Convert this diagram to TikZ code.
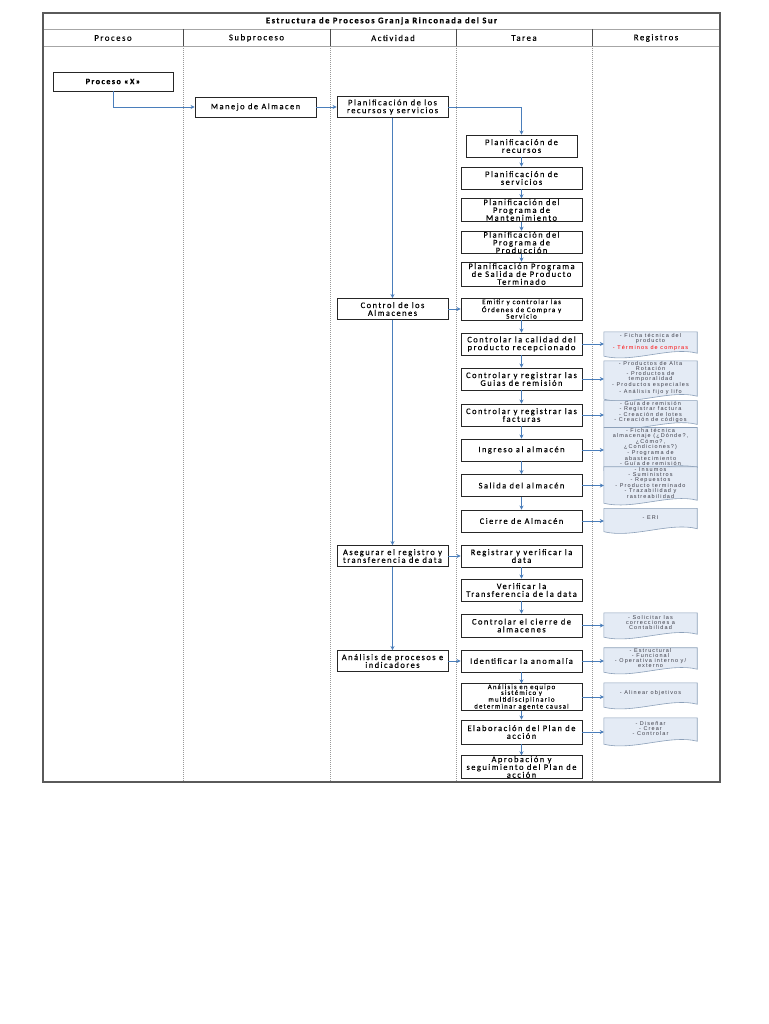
\documentclass[tikz,border=0pt]{standalone}
\usepackage{fontspec}
\setmainfont{Carlito}[LetterSpace=17, FakeBold=0.12]
\newfontfamily\docfamily{Liberation Sans}[LetterSpace=20]
\usetikzlibrary{arrows.meta,calc,backgrounds}
\definecolor{linkblue}{RGB}{74,126,187}
\definecolor{docfill}{RGB}{228,235,245}
\definecolor{docline}{RGB}{140,160,185}
\definecolor{docText}{RGB}{60,60,70}
\definecolor{frameGray}{RGB}{90,90,90}
\newcommand\boxfont{\fontsize{8.5}{7.8}\selectfont}
\newcommand\smallboxfont{\fontsize{7}{6.6}\selectfont}
\newcommand\docfont{\docfamily\fontsize{5.5}{5}\selectfont\color{docText}}
\tikzset{
  box/.style={draw=black!85, line width=0.9pt, fill=white, align=center, inner sep=0.5pt, font=\boxfont},
  taskbox/.style={box, minimum width=121pt, minimum height=22pt},
  actbox/.style={box, minimum width=111pt, minimum height=21pt},
  docnode/.style={minimum width=93pt, inner sep=0.5pt, align=center, font=\docfont},
  docshape/.style={draw=docline, line width=0.6pt, fill=docfill},
  conn/.style={draw=linkblue, line width=0.9pt, -{Stealth[length=4pt,width=4pt]}},
  divider/.style={draw=gray!80, line width=1pt, dash pattern=on 1pt off 1pt},
  hdr/.style={font=\fontsize{8.8}{8}\selectfont, inner sep=0pt}
}
\begin{document}
\begin{tikzpicture}[x=1pt,y=-1pt]
\useasboundingbox (0,0) rectangle (768,1024);
% header texts
\node[hdr, font=\bfseries\fontsize{8.6}{8}\selectfont] (title) at (381.5,21) {Estructura de Procesos Granja Rinconada del Sur};
\node[hdr] (hProceso) at (113,38) {Proceso};
\node[hdr] (hSub) at (256.5,38) {Subproceso};
\node[hdr] (hAct) at (393,38) {Actividad};
\node[hdr] (hTarea) at (524,38) {Tarea};
\node[hdr] (hReg) at (656,38) {Registros};
% grid
\draw[draw=gray!70, line width=0.9pt] (43,29) -- (720,29) (43,46) -- (720,46);
\draw[draw=black!70, line width=0.9pt] (183,29) -- (183,46) (330,29) -- (330,46) (456,29) -- (456,46) (592,29) -- (592,46);
\draw[divider] (183,46) -- (183,782) (330,46) -- (330,782) (456,46) -- (456,782) (592,46) -- (592,782);
\draw[draw=frameGray, line width=1.3pt] (43,13) rectangle (720,782);

% proceso / subproceso
\node[box, font=\bfseries\fontsize{8.2}{8}\selectfont, minimum width=120pt, minimum height=19pt] (procX) at (113,81.5) {Proceso «X»};
\node[box, minimum width=121pt, minimum height=20pt] (manejo) at (255.5,107) {Manejo de Almacen};

% actividades
\node[actbox] (a1) at (392.5,107) {Planificación de los\\recursos y servicios};
\node[actbox] (a2) at (392.5,309) {Control de los\\Almacenes};
\node[actbox] (a3) at (392.5,556) {Asegurar el registro y\\transferencia de data};
\node[actbox] (a4) at (392.5,661) {Análisis de procesos e\\indicadores};

% tareas
\node[taskbox, minimum width=111pt] (t1) at (521.5,146) {Planificación de\\recursos};
\node[taskbox] (t2) at (521.5,178) {Planificación de\\servicios};
\node[taskbox] (t3) at (521.5,210) {Planificación del\\Programa de\\Mantenimiento};
\node[taskbox] (t4) at (521.5,242.5) {Planificación del\\Programa de\\Producción};
\node[taskbox, minimum height=24pt] (t5) at (521.5,274) {Planificación Programa\\de Salida de Producto\\Terminado};
\node[taskbox, font=\smallboxfont] (t6) at (521.5,309) {Emitir y controlar las\\Órdenes de Compra y\\Servicio};
\node[taskbox] (t7) at (521.5,344) {Controlar la calidad del\\producto recepcionado};
\node[taskbox] (t8) at (521.5,379) {Controlar y registrar las\\Guias de remisión};
\node[taskbox] (t9) at (521.5,415) {Controlar y registrar las\\facturas};
\node[taskbox] (t10) at (521.5,450) {Ingreso al almacén};
\node[taskbox] (t11) at (521.5,485.5) {Salida del almacén};
\node[taskbox] (t12) at (521.5,521) {Cierre de Almacén};
\node[taskbox] (t13) at (521.5,556) {Registrar y verificar la\\data};
\node[taskbox] (t14) at (521.5,590) {Verificar la\\Transferencia de la data};
\node[taskbox, minimum height=23pt] (t15) at (521.5,625.5) {Controlar el cierre de\\almacenes};
\node[taskbox] (t16) at (521.5,661) {Identificar la anomalía};
\node[taskbox, font=\fontsize{6.8}{5.8}\selectfont] (t17) at (521.5,697) {Análisis en equipo\\sistémico y\\multidisciplinario\\determinar agente causal};
\node[taskbox, minimum height=24pt] (t18) at (521.5,732) {Elaboración del Plan de\\acción};
\node[taskbox] (t19) at (521.5,767) {Aprobación y\\seguimiento del Plan de\\acción};

% registros
\node[docnode, minimum height=20pt] (dA) at (650.5,342) {- Ficha técnica del\\producto\\\textcolor{red}{- Términos de compras}};
\node[docnode, minimum height=34pt] (dB) at (650.5,378) {- Productos de Alta\\Rotación\\- Productos de\\temporalidad\\- Productos especiales\\- Análisis fijo y lifo};
\node[docnode, minimum height=18pt] (dC) at (650.5,412) {- Guía de remisión\\- Registrar factura\\- Creación de lotes\\- Creación de códigos};
\node[docnode, minimum height=34pt] (dD) at (650.5,447) {- Ficha técnica\\almacenaje (¿Dónde?,\\¿Cómo?,\\¿Condiciones?)\\- Programa de\\abastecimiento\\- Guía de remisión};
\node[docnode, minimum height=30pt] (dE) at (650.5,483) {- Insumos\\- Suministros\\- Repuestos\\- Producto terminado\\- Trazabilidad y\\rastreabilidad};
\node[docnode, minimum height=19pt] (dF) at (650.5,518) {- ERI};
\node[docnode, minimum height=20pt] (dG) at (650.5,623) {- Solicitar las\\correcciones a\\Contabilidad};
\node[docnode, minimum height=20pt] (dH) at (650.5,658) {- Estructural\\- Funcional\\- Operativa interno y/\\externo};
\node[docnode, minimum height=20pt] (dI) at (650.5,693) {- Alinear objetivos};
\node[docnode, minimum height=22pt] (dJ) at (650.5,729) {- Diseñar\\- Crear\\- Controlar};

\begin{pgfonlayer}{background}
\fill[white] (0,0) rectangle (768,1024);
\foreach \d in {dA,dB,dC,dD,dE,dF,dG,dH,dI,dJ}{
  \draw[docshape] (\d.north west) -- (\d.north east) -- ($(\d.south east)+(0,1)$)
    .. controls ($(\d.south)+(20,-6)$) and ($(\d.south)+(-18,11)$) .. ($(\d.south west)+(0,4)$) -- cycle;
}
\end{pgfonlayer}

% connectors
\draw[conn] (procX.south) |- (manejo.west);
\draw[conn] (manejo.east) -- (a1.west);
\draw[conn] (a1.east) -| (t1.north);
\draw[conn] (a1.south) -- (a2.north);
\draw[conn] (a2.south) -- (a3.north);
\draw[conn] (a3.south) -- (a4.north);
\draw[conn] (a2.east) -- (t6.west);
\draw[conn] (a3.east) -- (t13.west);
\draw[conn] (a4.east) -- (t16.west);
\foreach \u/\v in {t1/t2,t2/t3,t3/t4,t4/t5,t6/t7,t7/t8,t8/t9,t9/t10,t10/t11,t11/t12,t13/t14,t14/t15,t16/t17,t17/t18,t18/t19}{
  \draw[conn] (\u.south) -- (\v.north);
}
\foreach \t/\d in {t7/dA,t8/dB,t9/dC,t10/dD,t11/dE,t12/dF,t15/dG,t16/dH,t17/dI,t18/dJ}{
  \draw[conn] (\t.east) -- (\t.east -| \d.west);
}
\end{tikzpicture}
\end{document}
